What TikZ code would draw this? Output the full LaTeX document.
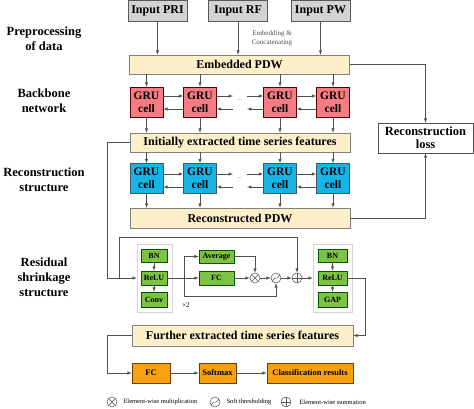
\documentclass[tikz,border=0pt]{standalone}
\usepackage{fontspec}
\setmainfont{Liberation Serif}
\usepackage{xcolor}
\usetikzlibrary{shapes,arrows,positioning}

\definecolor{inputgray}{HTML}{D3D3D3}
\definecolor{creamfill}{HTML}{FCEFC9}
\definecolor{grured}{HTML}{F47C82}
\definecolor{grublue}{HTML}{17B4E8}
\definecolor{boxgreen}{HTML}{7CC243}
\definecolor{boxorange}{HTML}{F7A10F}
\definecolor{linegray}{HTML}{505050}

\tikzset{
  bigfont/.style={font=\bfseries\fontsize{12}{14}\selectfont},
  link/.style={->, draw=linegray},
  inbox/.style={draw=gray!70!black, fill=inputgray, bigfont, inner sep=0pt, minimum width=59pt, minimum height=21pt},
  featbox/.style={draw=gray, fill=creamfill, bigfont, inner sep=0pt, minimum width=220pt, minimum height=19pt},
  grucell/.style={draw=red!35!black, fill=grured, align=center, inner sep=0pt, minimum width=33pt, minimum height=30pt, font=\bfseries\fontsize{11.5}{13}\selectfont},
  grucellb/.style={grucell, draw=cyan!30!black, fill=grublue},
  greenbox/.style={draw=green!35!black, fill=boxgreen, inner sep=0pt, minimum height=13pt, font=\bfseries\fontsize{8}{9}\selectfont},
  orangebox/.style={draw=orange!45!black, fill=boxorange, inner sep=0pt, minimum height=20pt, font=\bfseries\fontsize{8.5}{10}\selectfont},
  groupbox/.style={draw=gray!35, inner sep=0pt},
  sidelabel/.style={align=center, font=\bfseries\fontsize{12.5}{15}\selectfont},
  legendtext/.style={font=\fontsize{6.5}{8}\selectfont, inner sep=1pt},
  mulop/.style={circle, draw=linegray, fill=white, minimum size=10pt, inner sep=0pt,
    path picture={\draw[linegray] (path picture bounding box.north west) -- (path picture bounding box.south east)
      (path picture bounding box.north east) -- (path picture bounding box.south west);}},
  addop/.style={circle, draw=linegray, fill=white, minimum size=10pt, inner sep=0pt,
    path picture={\draw[linegray] (path picture bounding box.north) -- (path picture bounding box.south)
      (path picture bounding box.west) -- (path picture bounding box.east);}},
  softop/.style={circle, draw=linegray, fill=white, minimum size=10pt, inner sep=0pt,
    path picture={\draw[linegray] ([shift={(-4pt,-3pt)}]path picture bounding box.center) -- ([shift={(-1.2pt,0pt)}]path picture bounding box.center)
      -- ([shift={(1.2pt,0pt)}]path picture bounding box.center) -- ([shift={(4pt,3pt)}]path picture bounding box.center);}}
}

\begin{document}
\begin{tikzpicture}[x=1pt, y=-1pt, >=latex, line width=0.5pt]
    \useasboundingbox (0,0) rectangle (474,408);

    % left side labels
    \node (lblpre) [sidelabel] at (44,39) {Preprocessing\\of data};
    \node (lblback) [sidelabel] at (44,100.5) {Backbone\\network};
    \node (lblrec) [sidelabel] at (44,179.5) {Reconstruction\\structure};
    \node (lblres) [sidelabel] at (44,277) {Residual\\shrinkage\\structure};

    % inputs and embedding
    \node (pri) [inbox] at (157.5,10.5) {Input PRI};
    \node (rf) [inbox] at (238,10.5) {Input RF};
    \node (pw) [inbox] at (320.5,10.5) {Input PW};
    \node (embtxt) [align=center, text=gray!60!black, font=\fontsize{7}{9}\selectfont] at (272,38) {Embedding \&\\Concatenating};
    \node (emb) [featbox] at (239.5,64.5) {Embedded PDW};

    % backbone GRU cells
    \node (r1a) [grucell] at (146.5,102) {GRU\\cell};
    \node (r1b) [grucell] at (200,102) {GRU\\cell};
    \node (r1c) [grucell] at (280,102) {GRU\\cell};
    \node (r1d) [grucell] at (333,102) {GRU\\cell};
    \node (dots1) [font=\tiny] at (240,100) {...};

    \node (init) [featbox] at (240,142.5) {Initially extracted time series features};

    % reconstruction GRU cells
    \node (r2a) [grucellb] at (146.5,178.5) {GRU\\cell};
    \node (r2b) [grucellb] at (200,178.5) {GRU\\cell};
    \node (r2c) [grucellb] at (280,178.5) {GRU\\cell};
    \node (r2d) [grucellb] at (333,178.5) {GRU\\cell};
    \node (dots2) [font=\tiny] at (240,178) {...};

    \node (rec) [featbox, minimum height=20pt] at (240,218) {Reconstructed PDW};
    \node (loss) [draw=linegray, align=center, inner sep=0pt, minimum width=95pt, minimum height=30pt, font=\bfseries\fontsize{12.5}{13}\selectfont] at (425.5,138) {Reconstruction\\loss};

    % residual shrinkage block
    \node (lgroup) [groupbox, minimum width=35pt, minimum height=68pt] at (154.5,278) {};
    \node (bn1) [greenbox, minimum width=26pt] at (154,255.5) {BN};
    \node (relu1) [greenbox, minimum width=26pt, minimum height=14pt] at (154,278) {ReLU};
    \node (conv1) [greenbox, minimum width=26pt, minimum height=15pt] at (154,299.5) {Conv};
    \node (times2) [font=\fontsize{7}{8}\selectfont] at (186,305) {×2};
    \node (avg) [greenbox, minimum width=35pt] at (216.5,256.5) {Average};
    \node (fc1) [greenbox, minimum width=35pt, minimum height=14pt] at (216.5,278) {FC};
    \node (mul) [mulop] at (255,278) {};
    \node (soft) [softop] at (276,278) {};
    \node (add) [addop] at (297,278) {};
    \node (rgroup) [groupbox, minimum width=39pt, minimum height=68pt] at (332.5,278) {};
    \node (bn2) [greenbox, minimum width=29pt] at (332.5,255.5) {BN};
    \node (relu2) [greenbox, minimum width=29pt, minimum height=14pt] at (332.5,278) {ReLU};
    \node (gap) [greenbox, minimum width=29pt, minimum height=15pt] at (332.5,299.5) {GAP};

    \node (further) [featbox, minimum width=221pt, minimum height=21pt] at (242.5,335.5) {Further extracted time series features};

    % classifier
    \node (ofc) [orangebox, minimum width=38pt] at (151,373) {FC};
    \node (smax) [orangebox, minimum width=37pt] at (217.5,373) {Softmax};
    \node (cls) [orangebox, minimum width=86pt] at (310,373) {Classification results};

    % legend
    \node (legmul) [mulop] at (112,402) {};
    \node (legmultxt) [legendtext, right=5pt of legmul] {Element-wise multiplication};
    \node (legsoft) [softop] at (215,402) {};
    \node (legsofttxt) [legendtext, right=5pt of legsoft] {Soft thresholding};
    \node (legadd) [addop] at (286,402) {};
    \node (legaddtxt) [legendtext, right=7pt of legadd] {Element-wise summation};

    % inputs to embedding
    \draw[link] (pri) -- (pri |- emb.north);
    \draw[link] (rf) -- (rf |- emb.north);
    \draw[link] (pw) -- (pw |- emb.north);

    % vertical flow through both GRU layers
    \foreach \c in {a,b,c,d} {
        \draw[link] (r1\c |- emb.south) -- (r1\c.north);
        \draw[link] (r1\c.south) -- (r1\c |- init.north);
        \draw[link] (r2\c |- init.south) -- (r2\c.north);
        \draw[link] (r2\c.south) -- (r2\c |- rec.north);
    }

    % bidirectional links between cells
    \foreach \r/\ys/\yl in {1/6/-7, 2/4.5/-8.5} {
        \draw[link] ([yshift=\ys pt]r\r a.east) -- ([yshift=\ys pt]r\r b.west);
        \draw[link] ([yshift=\yl pt]r\r b.west) -- ([yshift=\yl pt]r\r a.east);
        \draw[link] ([yshift=\ys pt]r\r c.east) -- ([yshift=\ys pt]r\r d.west);
        \draw[link] ([yshift=\yl pt]r\r d.west) -- ([yshift=\yl pt]r\r c.east);
        \draw[link] ([yshift=\ys pt]r\r b.east) -- ([xshift=-7pt,yshift=\ys pt]r\r b.east -| dots\r);
        \draw[link] ([xshift=7pt,yshift=\ys pt]r\r c.west -| dots\r) -- ([yshift=\ys pt]r\r c.west);
        \draw[link] ([yshift=\yl pt]r\r c.west) -- ([xshift=7pt,yshift=\yl pt]r\r c.west -| dots\r);
        \draw[link] ([xshift=-7pt,yshift=\yl pt]r\r b.east -| dots\r) -- ([yshift=\yl pt]r\r b.east);
    }

    % reconstruction loss
    \draw[link] (emb.east) -| (loss.north);
    \draw[link] (rec.east) -| (loss.south);

    % residual shrinkage connections
    \coordinate (jl) at (107,278);
    \coordinate (sk) at (119,278);
    \coordinate (br) at (184,278);
    \draw[link] (init.west) -| (jl) -- (lgroup.west);
    \draw[link] (sk) -- ++(0,-41) -| (add.north);
    \draw[link] (bn1) -- (relu1);
    \draw[link] (relu1) -- (conv1);
    \draw[link] (relu1.east) -- (fc1.west);
    \draw[link] (br) |- (avg.west);
    \draw[link] (br) -- ++(0,18) -| (soft.south);
    \draw[link] (avg.east) -| (mul.north);
    \draw[link] (fc1) -- (mul);
    \draw[link] (mul) -- (soft);
    \draw[link] (soft) -- (add);
    \draw[link] (add) -- (rgroup.west);
    \draw[link] (bn2) -- (relu2);
    \draw[link] (relu2) -- (gap);
    \draw[link] (relu2.east) -- ++(18,0) |- (further.east);

    % classifier
    \draw[link] (further.west) -- ++(-25,0) |- (ofc.west);
    \draw[link] (ofc) -- (smax);
    \draw[link] (smax) -- (cls);
\end{tikzpicture}
\end{document}
